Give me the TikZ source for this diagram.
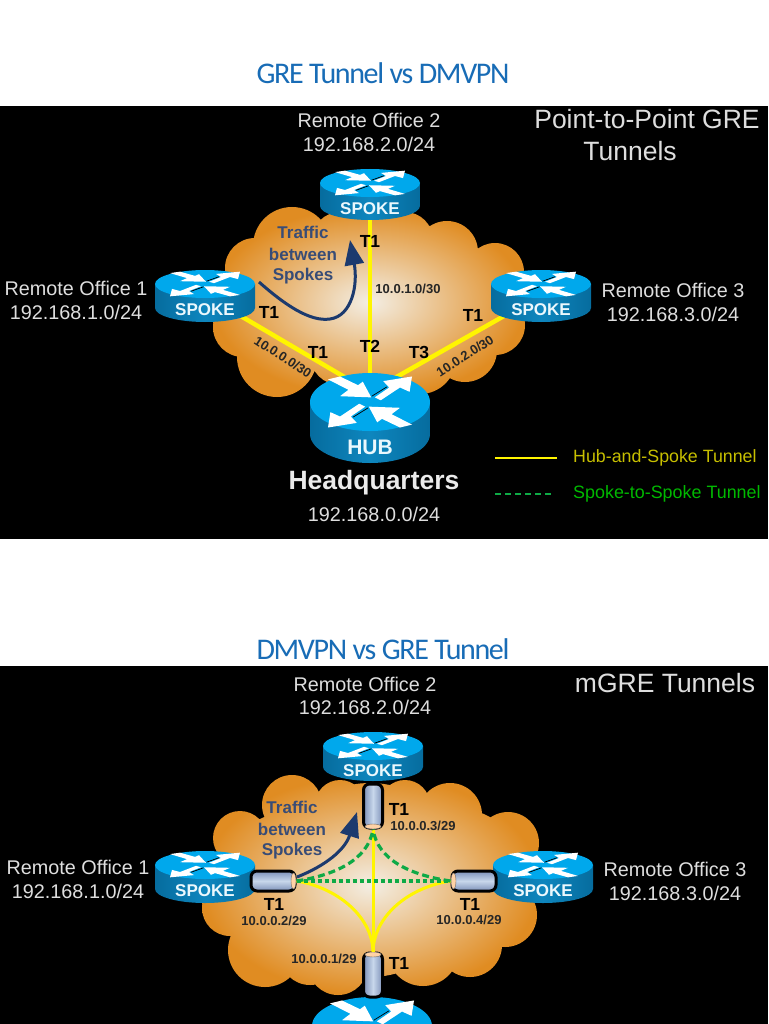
\documentclass[tikz,border=0pt]{standalone}
\usepackage{fontspec}
\setmainfont{Liberation Sans}
\newfontfamily\titlefont{Carlito}[LetterSpace=-4.5]
\usetikzlibrary{arrows.meta,calc}
\definecolor{rtop}{RGB}{0,168,236}
\definecolor{rbody}{RGB}{14,134,190}
\definecolor{rdark}{RGB}{6,108,158}
\definecolor{cloudo}{RGB}{224,140,34}
\definecolor{cloudi}{RGB}{243,238,228}
\definecolor{lightt}{RGB}{222,222,222}
\definecolor{navy}{RGB}{28,58,110}
\definecolor{navyt}{RGB}{56,76,118}
\definecolor{tyel}{RGB}{255,245,0}
\definecolor{tgrn}{RGB}{14,170,70}
\definecolor{titleblue}{RGB}{24,108,182}
\definecolor{tubea}{RGB}{125,145,185}
\definecolor{tubeb}{RGB}{200,215,235}
\tikzset{
  panel/.style={fill=black,draw=none},
  cloud/.style={inner color=cloudi,outer color=cloudo},
  title/.style={inner sep=0pt,text=titleblue,font=\titlefont\fontsize{30}{32}\selectfont},
  gray/.style={inner sep=0pt,text=lightt,font=\fontsize{19.8}{21}\selectfont},
  head/.style={inner sep=0pt,text=lightt,font=\fontsize{26.5}{28}\selectfont,align=center},
  t/.style={inner sep=0pt,text=black,font=\bfseries\fontsize{17.5}{19}\selectfont},
  addr/.style={inner sep=0pt,text=black!85,font=\bfseries\fontsize{13}{14}\selectfont},
  traffic/.style={inner sep=0pt,text=navyt,font=\bfseries\fontsize{17}{19}\selectfont},
  hubline/.style={draw=tyel,line width=4.5pt},
  hubthin/.style={draw=tyel,line width=3pt},
  s2s/.style={draw=tgrn,line width=3.2pt,dash pattern=on 7pt off 4pt},
  s2sfine/.style={draw=tgrn,line width=3.2pt,dash pattern=on 4pt off 3pt},
  flow/.style={draw=navy,line width=3pt,-{Triangle[length=25pt,width=19pt]}},
  tube/.style={draw=black,line width=3pt,rounded corners=6pt,inner sep=0pt},
  tubeh/.style={tube,minimum width=44pt,minimum height=20pt,
    top color=tubea,bottom color=tubea,middle color=tubeb},
  tubev/.style={tube,minimum width=19pt,minimum height=44pt,
    left color=tubea,right color=tubea,middle color=tubeb},
  tubeend/.style={fill=orange!35!white,draw=black!60,line width=.4pt},
}
% name, cx, cy of top ellipse, rx, ry, body height, label, label size
\newcommand{\rtr}[8]{%
  \begin{scope}[shift={(#2,#3)},x=#4pt,y=-#5pt]
    \pgfmathsetmacro{\HH}{#6/#5}
    \shade[left color=rdark,right color=rdark,middle color=rbody]
      (-1,0) -- (-1,\HH) .. controls (-1,\HH+.55) and (-.55,\HH+1) .. (0,\HH+1)
      .. controls (.55,\HH+1) and (1,\HH+.55) .. (1,\HH) -- (1,0) -- cycle;
    \fill[rtop] (0,0) circle[radius=1];
    \foreach \sx/\sy in {1/1,-1/-1}{
      \begin{scope}[xscale=\sx,yscale=\sy]
      \fill[white] (.08,-.16) -- (.32,-.5) -- (.22,-.72) -- (.7,-.88) -- (.66,-.35) -- (.5,-.5) -- (.18,-.06) -- cycle;
      \draw[black,line width=.7pt] (.03,-.2) -- (.28,-.52);
      \fill[white] (-.7,-.78) -- (-.5,-.88) -- (-.2,-.58) -- (-.12,-.7) -- (.02,-.16) -- (-.5,-.2) -- (-.36,-.42) -- cycle;
      \end{scope}}
  \end{scope}
  \node[inner sep=0pt,minimum width=2*#4pt,minimum height=#6pt+2*#5pt] (#1) at (#2,#3+#6/2) {};
  \node[inner sep=0pt,text=white!92!rtop,font=\bfseries\fontsize{#8}{#8}\selectfont] (#1l) at (#2,#3+#5+#6*.5) {#7};
}
\begin{document}
\begin{tikzpicture}[x=1pt,y=-1pt]
\useasboundingbox (0,0) rectangle (768,1024);
\fill[white] (0,0) rectangle (768,1024);
\path[panel] (0,106) rectangle (768,539);
\path[panel] (0,666) rectangle (768,1024);
\node[title] (t1) at (383,73) {GRE Tunnel vs DMVPN};
\node[title] (t2) at (383,649) {DMVPN vs GRE Tunnel};

% ---------- upper panel
\shade[cloud] (375,300) circle[radius=92] (292,246) circle[radius=39] (255,268) circle[radius=30]
  (243,327) circle[radius=30] (277,357) circle[radius=40] (340,355) circle[radius=30]
  (340,240) circle[radius=28] (405,240) circle[radius=28] (447,252) circle[radius=31]
  (495,272) circle[radius=29] (495,325) circle[radius=30] (465,350) circle[radius=32]
  (420,358) circle[radius=36] (300,300) circle[radius=55] (450,300) circle[radius=55];
\coordinate (h1a) at (370,392);
\path (205,295) coordinate (c1) (370,200) coordinate (c2) (541,295) coordinate (c3);
\draw[hubline] (c1) -- (h1a);
\draw[hubline] (c2) -- (h1a);
\draw[hubline] (c3) -- (h1a);
\rtr{us2}{370}{183}{50}{14}{23}{SPOKE}{17}
\rtr{us1}{205}{284}{50}{14}{24}{SPOKE}{17}
\rtr{us3}{541}{284}{50}{14}{24}{SPOKE}{17}
\rtr{uh}{370}{402}{60}{29}{32}{HUB}{21}
\node[gray] (a1) at (369,120) {Remote Office 2};
\node[gray] (a2) at (369,144) {192.168.2.0/24};
\node[gray] (a3) at (76,288) {Remote Office 1};
\node[gray] (a4) at (76,312) {192.168.1.0/24};
\node[gray] (a5) at (673,290) {Remote Office 3};
\node[gray] (a6) at (673,314) {192.168.3.0/24};
\node[head] (a7) at (647,119) {Point-to-Point GRE};
\node[head] (a8) at (630,151) {Tunnels};
\node[inner sep=0pt,text=white!92!black,font=\bfseries\fontsize{26.5}{28}\selectfont] (a9) at (374,483) {Headquarters};
\node[gray] (a10) at (374,514) {192.168.0.0/24};
\node[t] (b1) at (370,241) {T1};
\node[t] (b2) at (269,312) {T1};
\node[t] (b3) at (318,352) {T1};
\node[t] (b4) at (370,346) {T2};
\node[t] (b5) at (419,352) {T3};
\node[t] (b6) at (473,315) {T1};
\node[addr] (b7) at (408,289) {10.0.1.0/30};
\node[addr,rotate=-33] (b8) at (283,357) {10.0.0.0/30};
\node[addr,rotate=33] (b9) at (465,356) {10.0.2.0/30};
\node[traffic] (c4) at (303,232) {Traffic};
\node[traffic] (c5) at (303,254) {between};
\node[traffic] (c6) at (303,276) {Spokes};
\coordinate (f1a) at (259,282);
\coordinate (f1b) at (350,240);
\draw[flow] (f1a) .. controls (285,305) and (310,322) .. (330,319)
  .. controls (352,316) and (358,285) .. (f1b);
\coordinate (la) at (495,458); \coordinate (lb) at (557,458);
\coordinate (lc) at (495,494); \coordinate (ld) at (553,494);
\draw[draw=tyel,line width=2.2pt] (la) -- (lb);
\draw[s2sfine,line width=2.4pt,dash pattern=on 6pt off 4pt] (lc) -- (ld);
\node[inner sep=0pt,anchor=west,text=tyel!78!black,font=\fontsize{17.8}{19}\selectfont] (l1) at (573,458) {Hub-and-Spoke Tunnel};
\node[inner sep=0pt,anchor=west,text=green!72!black,font=\fontsize{17.9}{19}\selectfont] (l2) at (573,494) {Spoke-to-Spoke Tunnel};

% ---------- lower panel
\shade[cloud] (370,880) circle[radius=97] (292,805) circle[radius=30] (240,838) circle[radius=27]
  (230,908) circle[radius=28] (265,950) circle[radius=37] (310,955) circle[radius=30] (338,965) circle[radius=30]
  (423,950) circle[radius=36] (470,945) circle[radius=32] (505,915) circle[radius=32] (508,843) circle[radius=31]
  (450,815) circle[radius=32] (290,880) circle[radius=68] (455,880) circle[radius=72]
  (340,805) circle[radius=25] (405,805) circle[radius=25];
\rtr{ls2}{373}{746}{50}{14}{21}{SPOKE}{17}
\rtr{ls1}{205}{865}{50}{14}{24}{SPOKE}{17}
\rtr{ls3}{543}{865}{50}{14}{24}{SPOKE}{17}
\rtr{lh}{372}{1026}{60}{29}{32}{}{21}
\node[tubeh] (tl) at (273,881) {};
\node[tubeh] (tr) at (474,881) {};
\node[tubev] (tt) at (373,806) {};
\node[tubev] (tb) at (373,975) {};
\fill[tubeend] (tl.east) ++(-3,0) ellipse[x radius=2.5,y radius=8];
\fill[tubeend] (tr.west) ++(3,0) ellipse[x radius=2.5,y radius=8];
\fill[tubeend] (tt.south) ++(0,-3) ellipse[x radius=8,y radius=2.5];
\fill[tubeend] (tb.north) ++(0,3) ellipse[x radius=8,y radius=2.5];
\draw[hubthin] (tl.east) .. controls (335,887) and (372,915) .. (tb.north);
\draw[hubthin] (tr.west) .. controls (410,887) and (374,915) .. (tb.north);
\draw[hubthin] (tt.south) -- (tb.north);
\draw[s2sfine] (tl.east) -- (tr.west);
\draw[s2s] (tl.east) .. controls (335,875) and (368,860) .. (tt.south);
\draw[s2s] (tr.west) .. controls (410,875) and (378,860) .. (tt.south);
\coordinate (f2a) at (297,877);
\coordinate (f2b) at (357,812);
\draw[flow] (f2a) .. controls (325,866) and (345,850) .. (f2b);
\node[gray] (d1) at (365,684) {Remote Office 2};
\node[gray] (d2) at (365,707) {192.168.2.0/24};
\node[gray] (d3) at (78,867) {Remote Office 1};
\node[gray] (d4) at (78,891) {192.168.1.0/24};
\node[gray] (d5) at (675,869) {Remote Office 3};
\node[gray] (d6) at (675,893) {192.168.3.0/24};
\node[head] (d7) at (665,683) {mGRE Tunnels};
\node[t] (e1) at (399,809) {T1};
\node[t] (e2) at (274,904) {T1};
\node[t] (e3) at (470,904) {T1};
\node[t] (e4) at (399,963) {T1};
\node[addr] (e5) at (423,826) {10.0.0.3/29};
\node[addr] (e6) at (274,921) {10.0.0.2/29};
\node[addr] (e7) at (469,920) {10.0.0.4/29};
\node[addr] (e8) at (324,959) {10.0.0.1/29};
\node[traffic] (g1) at (292,807) {Traffic};
\node[traffic] (g2) at (292,829) {between};
\node[traffic] (g3) at (292,851) {Spokes};
\end{tikzpicture}
\end{document}
